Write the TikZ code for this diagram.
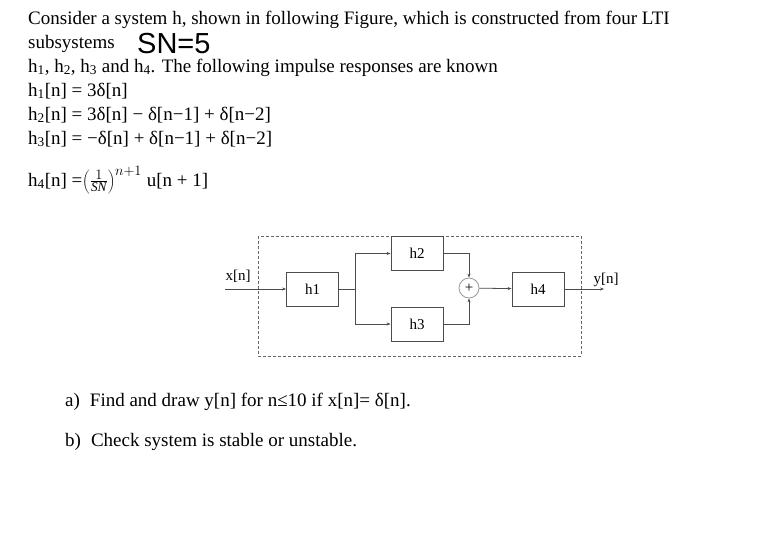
\documentclass[tikz,border=0pt]{standalone}
\usepackage{fontspec}
\setmainfont{Liberation Serif}
\newfontfamily\sans{Liberation Sans}
\usetikzlibrary{arrows.meta}
\begin{document}
\begin{tikzpicture}[x=1pt,y=-1pt,
  txt/.style={anchor=base west,inner sep=0pt,font=\fontsize{19}{22}\selectfont},
  blk/.style={draw=black!70,line width=0.8pt,minimum width=52pt,minimum height=34pt,inner sep=0pt,font=\fontsize{15}{18}\selectfont},
  wire/.style={draw=black!70,line width=0.8pt},
  arr/.style={wire,-{Stealth[length=4pt,width=3pt]}}]
\useasboundingbox (0,0) rectangle (772,550);
\fill[white] (0,0) rectangle (772,550);
\node[txt] (t1) at (28,24) {Consider a system h, shown in following Figure, which is constructed from four LTI};
\node[txt] (t2) at (28,48) {subsystems};
\node[anchor=base west,inner sep=0pt,font=\sans\fontsize{29}{30}\selectfont] (sn) at (137,53) {SN=5};
\node[txt] (t3) at (28,72) {h\textsubscript{1}, h\textsubscript{2}, h\textsubscript{3} and h\textsubscript{4}. The following impulse responses are known};
\node[txt] (t4) at (28,96) {h\textsubscript{1}[n] = 3δ[n]};
\node[txt] (t5) at (28,120) {h\textsubscript{2}[n] = 3δ[n] − δ[n−1] + δ[n−2]};
\node[txt] (t6) at (28,144) {h\textsubscript{3}[n] = −δ[n] + δ[n−1] + δ[n−2]};
\node[txt] (t7) at (28,186) {h\textsubscript{4}[n] =$\left(\frac{1}{\mathit{SN}}\right)^{n+1}$ u[n + 1]};
\node[txt] (qa) at (65,406) {a)\hspace{10pt}Find and draw y[n] for n≤10 if x[n]= δ[n].};
\node[txt] (qb) at (65,446) {b)\hspace{10pt}Check system is stable or unstable.};
% diagram
\draw[black!60,densely dashed,line width=0.7pt] (258,236) rectangle (581,356);
\node[blk] (h1) at (312.5,289) {h1};
\node[blk] (h2) at (417,253.5) {h2};
\node[blk] (h3) at (417,324) {h3};
\node[blk] (h4) at (538,289) {h4};
\node[circle,draw=black!40,line width=0.8pt,minimum size=20pt,inner sep=0pt,font=\fontsize{15}{15}\selectfont] (s) at (469,288) {+};
\coordinate (in) at (225,289);
\coordinate (out) at (604,289);
\coordinate (sp) at (355,289);
\node[anchor=base,inner sep=0pt,font=\fontsize{15}{18}\selectfont] (xl) at (238,280) {x[n]};
\node[anchor=base,inner sep=0pt,font=\fontsize{15}{18}\selectfont] (yl) at (606,283) {y[n]};
\draw[arr] (in) -- (h1);
\draw[wire] (h1) -- (sp);
\draw[arr] (sp) |- (h2);
\draw[arr] (sp) |- (h3);
\draw[arr] (h2) -| (s);
\draw[arr] (h3) -| (s);
\draw[arr] (s) -- (h4);
\draw[arr] (h4) -- (out);
\end{tikzpicture}
\end{document}
